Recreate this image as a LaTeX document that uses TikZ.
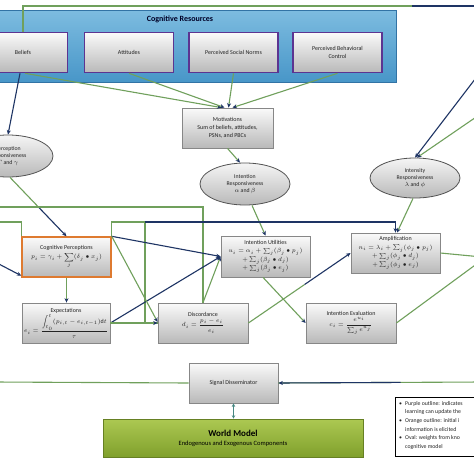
\documentclass[tikz,border=0pt]{standalone}
\usepackage{fontspec}
\setmainfont{Carlito}
\usepackage{amsmath}
\usetikzlibrary{arrows.meta,shapes.geometric,calc}
\definecolor{lgreen}{RGB}{112,160,92}
\definecolor{navyc}{RGB}{30,52,100}
\definecolor{purp}{RGB}{92,52,145}
\definecolor{orng}{RGB}{222,122,48}
\definecolor{tealc}{RGB}{70,135,130}
\definecolor{boxedge}{RGB}{135,135,135}
\definecolor{txt}{RGB}{35,35,35}
\definecolor{crtop}{RGB}{125,188,224}
\definecolor{crbot}{RGB}{72,150,200}
\definecolor{credge}{RGB}{50,115,165}
\definecolor{wmtop}{RGB}{172,200,82}
\definecolor{wmbot}{RGB}{128,160,44}
\tikzset{
  gbox/.style={draw=boxedge, line width=0.8pt, top color=gray!4, bottom color=gray!55,
    minimum width=89pt, minimum height=40pt, align=center, text=txt,
    font=\fontsize{6}{8.3}\selectfont, inner sep=1pt},
  pbox/.style={gbox, draw=purp, line width=1.6pt, minimum width=89pt, minimum height=40pt},
  obox/.style={gbox, draw=orng, line width=1.4pt},
  oval/.style={ellipse, draw=gray!65!black, line width=0.8pt, top color=gray!8, bottom color=gray!55,
    minimum width=90pt, minimum height=42pt, align=center, text=txt,
    font=\fontsize{5.8}{7.4}\selectfont, inner sep=0pt},
  gline/.style={draw=lgreen, line width=1.1pt},
  nline/.style={draw=navyc, line width=1.1pt},
  tip/.style={-{Stealth[length=4.5pt,width=4pt,color=navyc]}},
}
\begin{document}
\begin{tikzpicture}[x=1pt,y=-1pt]
\useasboundingbox (0,0) rectangle (474,474);
\clip (0,0) rectangle (474,474);
\fill[white] (0,0) rectangle (474,474);

% off-canvas coordinates
\coordinate (offTR) at (482,6);
\coordinate (offR1) at (482,70);
\coordinate (offR2) at (482,113);
\coordinate (offR3) at (482,257);
\coordinate (offR4) at (482,260);
\coordinate (offR5) at (482,382);
\coordinate (offL1) at (-5,207);
\coordinate (offL2) at (-5,222);
\coordinate (offL3) at (-5,262);
\coordinate (offL4) at (-5,382);
\coordinate (j1) at (145,222);

% Cognitive resources container
\node[draw=credge, line width=0.8pt, top color=crtop, bottom color=crbot,
      minimum width=401pt, minimum height=72pt, inner sep=0pt] (cr) at (195.5,46) {};
\node[font=\fontsize{8}{9}\selectfont\bfseries, text=black!85!blue] (crtitle) at (180,19) {Cognitive Resources};
\node[pbox] (beliefs) at (23,52.5) {Beliefs};
\node[pbox] (att) at (129,52.5) {Attitudes};
\node[pbox] (psn) at (233.5,52.5) {Perceived Social Norms};
\node[pbox] (pbc) at (337.5,52.5) {Perceived Behavioral\\Control};

% motivations and ovals
\node[gbox, minimum width=91pt] (motiv) at (227.5,128) {Motivations\\Sum of beliefs, attitudes,\\PSNs, and PBCs};
\node[oval] (percresp) at (8,156) {Perception\\Responsiveness\\$\Gamma$ and $\gamma$};
\node[oval] (intresp) at (245,184) {Intention\\Responsiveness\\$\alpha$ and $\beta$};
\node[oval, minimum height=40pt] (intensresp) at (415,178) {Intensity\\Responsiveness\\$\lambda$ and $\phi$};

% process boxes
\node[obox] (cogperc) at (66.5,257) {Cognitive Perceptions\\[0.5pt]$p_i=\gamma_i+\displaystyle\sum_j(\delta_j\bullet x_j)$};
\node[gbox, minimum width=88pt] (expect) at (66,323) {Expectations\\[0.5pt]$e_i=\dfrac{\displaystyle\int_{t_0}^{t}(p_{i,t}-e_{i,t-1})\mathrm{d}t}{\tau}$};
\node[gbox, minimum width=90pt] (disc) at (203,323) {Discordance\\[0.5pt]$d_i=\dfrac{p_i-e_i}{e_i}$};
\node[gbox, minimum height=41pt, font=\fontsize{6}{8.2}\selectfont] (intutil) at (265.5,256.5) {Intention Utilities\\[0.3pt]$u_i=\alpha_i+\sum_j(\beta_j\bullet p_j)$\\[0.3pt]$+\sum_j(\beta_j\bullet d_j)$\\[0.3pt]$+\sum_j(\beta_j\bullet e_j)$};
\node[gbox, font=\fontsize{6}{8.2}\selectfont] (ampl) at (395.5,253) {Amplification\\[0.3pt]$n_i=\lambda_i+\sum_j(\phi_j\bullet p_j)$\\[0.3pt]$+\sum_j(\phi_j\bullet d_j)$\\[0.3pt]$+\sum_j(\phi_j\bullet e_j)$};
\node[gbox, minimum width=90pt] (inteval) at (351,323) {Intention Evaluation\\[0.5pt]$c_i=\dfrac{e^{u_i}}{\sum_j e^{u_j}}$};
\node[gbox] (signal) at (233.5,383) {Signal Disseminator};
\node[draw=wmbot!80!black, line width=0.6pt, top color=wmtop, bottom color=wmbot,
      minimum width=260pt, minimum height=38pt, align=center, text=black,
      font=\fontsize{6.5}{9}\selectfont, inner sep=1pt] (world) at (233,438)
      {{\fontsize{9}{10}\selectfont\bfseries World Model}\\Endogenous and Exogenous Components};

% legend
\node[draw=black, line width=0.9pt, fill=white, anchor=north west, minimum width=100pt,
      minimum height=59pt, inner sep=0pt] (legend) at (395,397) {};
\begin{scope}[font=\fontsize{5.8}{7}\selectfont, text=txt]
\node[anchor=base west, inner sep=0pt] (lb1) at ([xshift=4pt,yshift=-8pt]legend.north west) {\textbullet};
\node[anchor=base west, inner sep=0pt] (lt1) at ([xshift=10pt,yshift=-8pt]legend.north west) {Purple outline: indicates};
\node[anchor=base west, inner sep=0pt] (lt2) at ([xshift=10pt,yshift=-16.7pt]legend.north west) {learning can update the};
\node[anchor=base west, inner sep=0pt] (lb2) at ([xshift=4pt,yshift=-25.4pt]legend.north west) {\textbullet};
\node[anchor=base west, inner sep=0pt] (lt3) at ([xshift=10pt,yshift=-25.4pt]legend.north west) {Orange outline: initial i};
\node[anchor=base west, inner sep=0pt] (lt4) at ([xshift=10pt,yshift=-34.1pt]legend.north west) {information is elicited};
\node[anchor=base west, inner sep=0pt] (lb3) at ([xshift=4pt,yshift=-42.8pt]legend.north west) {\textbullet};
\node[anchor=base west, inner sep=0pt] (lt5) at ([xshift=10pt,yshift=-42.8pt]legend.north west) {Oval: weights from kno};
\node[anchor=base west, inner sep=0pt] (lt6) at ([xshift=10pt,yshift=-51.5pt]legend.north west) {cognitive model};
\end{scope}

% ---------- connectors ----------
% top line
\draw[gline] (beliefs.north) |- (offTR);
\draw[nline] ($(offTR)+(-70,0)$) -- (offTR);
% resources to motivations
\draw[gline,tip] ([xshift=2pt]beliefs.south) -- ([xshift=-6pt]motiv.north);
\draw[gline,tip] (att.south) -- ([xshift=-3pt]motiv.north);
\draw[gline,tip] (psn.south) -- ([xshift=1pt]motiv.north);
\draw[gline,tip] (pbc.south) -- ([xshift=5pt]motiv.north);
% beliefs to perception responsiveness
\draw[nline,tip] ([xshift=-3pt]beliefs.south) -- (percresp.north);
% motivations to intention responsiveness
\draw[gline,tip] (motiv.south) -- ([xshift=-5pt]intresp.north);
% perception responsiveness to cognitive perceptions
\draw[gline] ([xshift=2pt]percresp.south) -- ($([xshift=2pt]percresp.south)!0.5!(cogperc.north)$);
\draw[nline,tip] ($([xshift=2pt]percresp.south)!0.5!(cogperc.north)$) -- (cogperc.north);
% intention responsiveness to utilities
\draw[gline,tip] ([xshift=7pt]intresp.south) -- (intutil.north);
% intensity
\draw[nline,tip] (offR1) -- (intensresp.north);
\draw[gline,tip] (offR2) -- ([xshift=2pt]intensresp.north);
\draw[gline,tip] ([xshift=-2pt]intensresp.south) -- ([xshift=1.5pt]ampl.north);
% loops on the left
\draw[gline] (offL1) -| (disc.north);
\draw[gline] (offL2) -| (cogperc.north west);
\draw[gline] (cogperc.north east) |- (j1) |- (disc.west);
\draw[nline,tip] (j1) -| (ampl.north);
% into utilities
\draw[nline,tip] (cogperc.north east) -- (intutil.west);
\draw[nline,tip] (expect.east) -- (intutil.west);
\draw[gline,tip] (disc.north) -- (intutil.west);
% into discordance
\draw[gline,tip] (cogperc.north east) -- ([yshift=1pt]disc.west);
\draw[gline,tip] (expect.east) -- (disc.west);
% discordance to amplification
\draw[gline] (disc.east) -- ($(disc.east)!0.55!(ampl.west)$);
\draw[nline,tip] ($(disc.east)!0.55!(ampl.west)$) -- (ampl.west);
% utilities to evaluation
\draw[gline,tip] ([xshift=-2.5pt]intutil.south) -- (inteval.west);
% off to the right
\draw[gline] (inteval.east) -- (offR4);
\draw[gline] (ampl.east) -- (offR3);
% left navy into cognitive perceptions
\draw[nline,tip] (offL3) -- ([yshift=2pt]cogperc.south west);
% cognitive perceptions to expectations
\draw[gline,tip] (cogperc.south) -- (cogperc.south |- expect.north);
% signal disseminator
\draw[gline] (offL4) -- (signal.west);
\draw[gline] (offR5) -- (signal.east);
\draw[nline,tip] ($(signal.east)!0.6!(offR5)$) -- (signal.east);
\draw[draw=tealc, line width=1pt, {Stealth[length=3.5pt,width=3.5pt]}-{Stealth[length=3.5pt,width=3.5pt]}]
  (signal.south) -- (signal.south |- world.north);
\end{tikzpicture}
\end{document}
